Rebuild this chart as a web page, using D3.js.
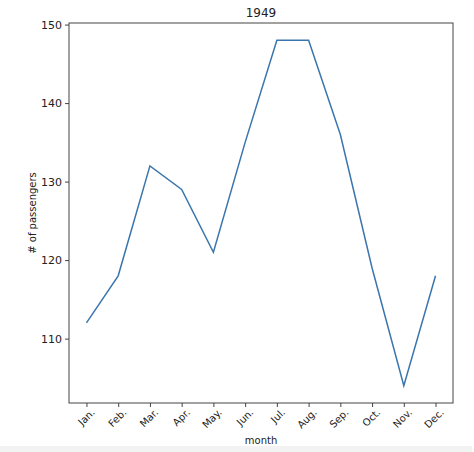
<html>
<head>
  <script src="https://d3js.org/d3.v7.min.js"></script>
</head>
<style>
  body { margin: 0; background: white; }
  text { font-family: "DejaVu Sans", sans-serif; fill: #222; }
  .axis path, .axis line { stroke: #444; }
</style>
<body>
  <svg id="chart" width="474" height="452"></svg>
  <script>
    // 1949 monthly airline passengers
    const months = ["Jan.", "Feb.", "Mar.", "Apr.", "May.", "Jun.", "Jul.", "Aug.", "Sep.", "Oct.", "Nov.", "Dec."];
    const passengers = [112, 118, 132, 129, 121, 135, 148, 148, 136, 119, 104, 118];
    const yTicks = [110, 120, 130, 140, 150];

    const svg = d3.select("svg#chart");
    const margin = { top: 23, right: 21, bottom: 49, left: 69 };
    const width = +svg.attr("width");
    const height = +svg.attr("height");
    const chartWidth = width - margin.left - margin.right;
    const chartHeight = height - margin.top - margin.bottom;

    // light strip along the bottom of the screenshot
    svg.append("rect").attr("x", 0).attr("y", 446).attr("width", 472).attr("height", 6).attr("fill", "#f3f3f3");

    const g = svg.append("g").attr("transform", `translate(${margin.left},${margin.top})`);

    // matplotlib-like 5% padding
    const yMin = d3.min(passengers), yMax = d3.max(passengers);
    const pad = (yMax - yMin) * 0.05;
    const xScale = d3.scaleLinear().domain([-0.55, months.length - 1 + 0.55]).range([0, chartWidth]);
    const yScale = d3.scaleLinear().domain([yMin - pad, yMax + pad]).range([chartHeight, 0]);

    const bottomAxis = d3.axisBottom(xScale)
      .tickValues(d3.range(months.length))
      .tickFormat(i => months[i])
      .tickSize(4).tickPadding(3).tickSizeOuter(0);
    const xAxis = g.append("g").attr("class", "x axis")
      .attr("transform", `translate(0,${chartHeight})`)
      .call(bottomAxis);
    xAxis.select(".domain").remove();
    xAxis.selectAll("text")
      .attr("font-size", 10)
      .attr("text-anchor", "end")
      .attr("dx", "-0.1em").attr("dy", "0.6em")
      .attr("transform", "rotate(-45)");

    const leftAxis = d3.axisLeft(yScale).tickValues(yTicks).tickSize(4).tickPadding(3);
    const yAxis = g.append("g").attr("class", "y axis").call(leftAxis);
    yAxis.select(".domain").remove();
    yAxis.selectAll("text").attr("font-size", 11);

    // frame
    g.append("rect").attr("width", chartWidth).attr("height", chartHeight)
      .attr("fill", "none").attr("stroke", "#444").attr("stroke-width", 1);

    const lineGen = d3.line()
      .x((d, i) => xScale(i))
      .y(d => yScale(d));

    g.append("path")
      .datum(passengers)
      .attr("d", lineGen)
      .attr("fill", "none")
      .attr("stroke", "#3a75ae")
      .attr("stroke-width", 1.5);

    svg.append("text").attr("x", margin.left + chartWidth / 2).attr("y", 17)
      .attr("text-anchor", "middle").attr("font-size", 12).text("1949");

    svg.append("text").attr("x", margin.left + chartWidth / 2).attr("y", 444)
      .attr("text-anchor", "middle").attr("font-size", 10).text("month");

    svg.append("text")
      .attr("transform", `translate(36,${margin.top + chartHeight / 2}) rotate(-90)`)
      .attr("text-anchor", "middle").attr("font-size", 10).text("# of passengers");
  </script>
</body>
</html>
